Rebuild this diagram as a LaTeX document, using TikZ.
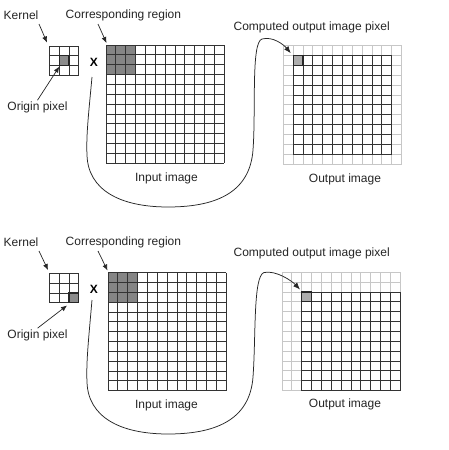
\documentclass[tikz,border=0pt]{standalone}
\usepackage{fontspec}
\setmainfont{Liberation Sans}
\usetikzlibrary{arrows.meta}
\newcommand\cellgrid[4]{%
  \foreach \k in {0,...,#3}{%
    \draw[#4] (#1+\k*9.85,#2) -- (#1+\k*9.85,#2+#3*9.85);
    \draw[#4] (#1,#2+\k*9.85) -- (#1+#3*9.85,#2+\k*9.85);
  }}
\begin{document}
\begin{tikzpicture}[x=1pt,y=-1pt,
  lbl/.style={font=\fontsize{12}{14}\selectfont, text=black!85, inner sep=0pt},
  xmark/.style={font=\fontsize{12}{14}\selectfont\bfseries, text=black, inner sep=0pt},
  darkgrid/.style={draw=black!80, line width=0.75pt},
  lightgrid/.style={draw=black!22, line width=0.75pt},
  regionfill/.style={fill=black!48},
  pixfill/.style={fill=black!32, draw=black!85, line width=1.1pt},
  origfill/.style={fill=black!45, draw=black!85, line width=1.1pt},
  pointer/.style={draw=black!85, line width=0.7pt, -{Latex[length=6pt,width=5pt]}},
  flow/.style={draw=black!85, line width=0.75pt, -{Latex[length=7pt,width=5.5pt]}}]
\useasboundingbox (0,0) rectangle (448,450);
\fill[white] (0,0) rectangle (448,450);

% ================= TOP PANEL =================
% kernel
\cellgrid{49.3}{46}{3}{darkgrid}
\draw[origfill] (59.15,55.85) rectangle (69.0,65.7);
% input image
\fill[regionfill] (105.5,44.5) rectangle (136.1,75.1);
\cellgrid{106}{45}{12}{darkgrid}
% output image
\cellgrid{283.3}{45.7}{12}{lightgrid}
\cellgrid{293.15}{55.55}{10}{darkgrid}
\draw[pixfill] (293.15,55.55) rectangle (303.0,65.4);

\node[lbl] (kerA) at (21,15) {Kernel};
\node[lbl] (corA) at (123.4,15) {Corresponding region};
\node[lbl] (oriA) at (37.5,107) {Origin pixel};
\node[lbl] (cmpA) at (311.7,27) {Computed output image pixel};
\node[lbl] (inA) at (166.5,178) {Input image};
\node[lbl] (outA) at (345,179) {Output image};
\node[xmark] (xA) at (94,62) {X};

\coordinate (kerTipA) at (47,42.5);
\coordinate (corTipA) at (106.5,43);
\coordinate (oriTipA) at (59.3,66.6);
\coordinate (flowStartA) at (92,77);
\coordinate (pixTipA) at (290.8,53.2);

\draw[pointer] (39,24) -- (kerTipA);
\draw[pointer] (98,24) -- (corTipA);
\draw[pointer] (oriA.north) ++(0,-1) -- (oriTipA);
\draw[flow] (flowStartA) .. controls (89,110) and (86,135) .. (87,155)
  .. controls (88,190) and (120,207) .. (168,207)
  .. controls (220,207) and (250,190) .. (253,150)
  .. controls (256,110) and (251,42) .. (262,39)
  .. controls (273,36) and (284,45) .. (pixTipA);

% ================= BOTTOM PANEL =================
% kernel
\cellgrid{49.3}{273.3}{3}{darkgrid}
\draw[origfill] (69.0,293.0) rectangle (78.85,302.85);
% input image
\fill[regionfill] (107.5,272) rectangle (138.1,302.6);
\cellgrid{108}{272.5}{12}{darkgrid}
% output image
\cellgrid{282}{272.3}{12}{lightgrid}
\cellgrid{301.7}{292}{10}{darkgrid}
\draw[pixfill] (301.7,292) rectangle (311.55,301.85);

\node[lbl] (kerB) at (21,242) {Kernel};
\node[lbl] (corB) at (123.4,242) {Corresponding region};
\node[lbl] (oriB) at (37.5,335) {Origin pixel};
\node[lbl] (cmpB) at (311.7,253) {Computed output image pixel};
\node[lbl] (inB) at (166.5,405) {Input image};
\node[lbl] (outB) at (345,404) {Output image};
\node[xmark] (xB) at (94,289) {X};

\coordinate (kerTipB) at (48,270);
\coordinate (corTipB) at (107.5,270.5);
\coordinate (oriTipB) at (67,305.5);
\coordinate (flowStartB) at (92,300);
\coordinate (pixTipB) at (300,289.5);

\draw[pointer] (39,251) -- (kerTipB);
\draw[pointer] (98,251) -- (corTipB);
\draw[pointer] (oriB.north) ++(0,-1) -- (oriTipB);
\draw[flow] (flowStartB) .. controls (89,335) and (86,362) .. (87,382)
  .. controls (88,417) and (120,434) .. (168,434)
  .. controls (220,434) and (250,417) .. (253,377)
  .. controls (256,337) and (253,276) .. (264,272.5)
  .. controls (276,270) and (292,281) .. (pixTipB);
\end{tikzpicture}
\end{document}
